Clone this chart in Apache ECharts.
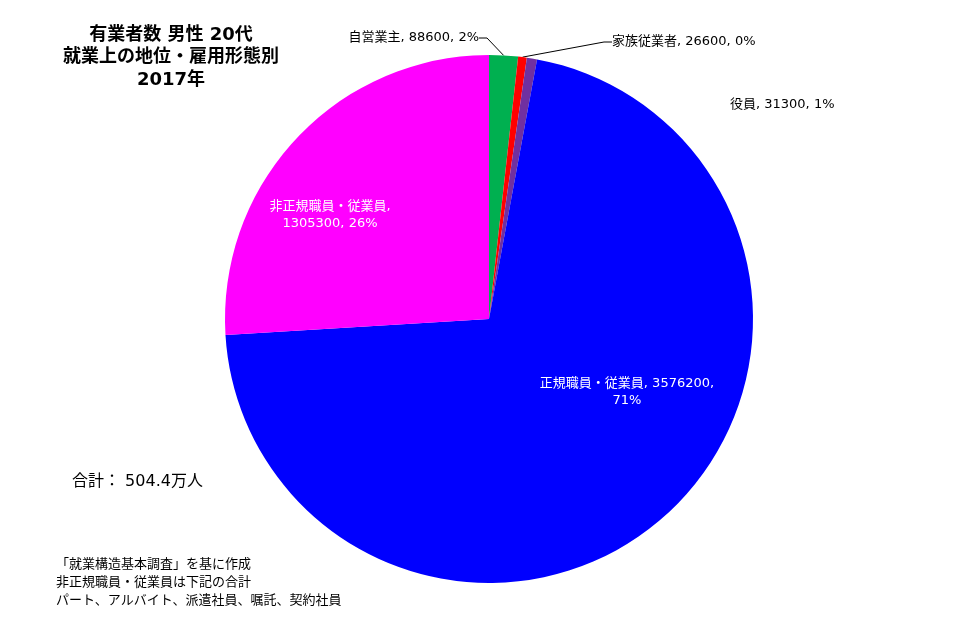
<!DOCTYPE html>
<html lang="ja">
<head>
<meta charset="UTF-8">
<title>有業者数 男性 20代</title>
<script src="https://cdn.jsdelivr.net/npm/echarts@6/dist/echarts.min.js"></script>
<style>
html,body{margin:0;padding:0;background:#fff;}
#main{width:979px;height:640px;}
</style>
</head>
<body>
<div id="main"></div>
<script type="text/javascript">
// 就業上の地位・雇用形態別 (人)
var categories = ['自営業主', '家族従業者', '役員', '正規職員・従業員', '非正規職員・従業員'];
var values = [88600, 26600, 31300, 3576200, 1305300];
var percents = [2, 0, 1, 71, 26];
var colors = ['#00B050', '#FF0000', '#7030A0', '#0000FF', '#FF00FF'];
var titleLines = ['有業者数 男性 20代', '就業上の地位・雇用形態別', '2017年'];
var totalText = '合計： 504.4万人';
var noteLines = ['「就業構造基本調査」を基に作成', '非正規職員・従業員は下記の合計', 'パート、アルバイト、派遣社員、嘱託、契約社員'];

var FONT = '"DejaVu Sans", "Noto Sans CJK JP", sans-serif';

var pieData = categories.map(function (name, i) {
    var item = { name: name, value: values[i], itemStyle: { color: colors[i] } };
    if (i >= 3) {
        item.label = { position: 'inside', color: '#fff' };
        item.labelLine = { show: false };
    }
    if (i == 2) {
        item.labelLine = { show: false };
    }
    return item;
});

// 各ラベルの置き場所
var labelPos = [
    { x: 479, y: 38, align: 'right' },
    { x: 612, y: 42, align: 'left' },
    { x: 730, y: 105, align: 'left' },
    { x: 627, y: 392, align: 'center' },
    { x: 330, y: 215, align: 'center' }
];

var chart = echarts.init(document.getElementById('main'));
var option = {
    backgroundColor: '#fff',
    animation: false,
    graphic: [{
        type: 'text',
        x: 171,
        y: 24,
        style: {
            text: titleLines.join('\n'),
            align: 'center',
            font: 'bold 18px ' + FONT,
            lineHeight: 22.5,
            fill: '#000'
        }
    }, {
        type: 'text',
        x: 72,
        y: 474,
        style: { text: totalText, font: '16px ' + FONT, fill: '#000' }
    }, {
        type: 'text',
        x: 56,
        y: 556,
        style: { text: noteLines.join('\n'), font: '13px ' + FONT, lineHeight: 18, fill: '#000' }
    }],
    series: [{
        type: 'pie',
        center: [489, 319],
        radius: 264,
        startAngle: 90,
        clockwise: true,
        avoidLabelOverlap: false,
        data: pieData,
        label: {
            show: true,
            position: 'outside',
            fontFamily: FONT,
            fontSize: 13,
            color: '#000',
            lineHeight: 17,
            formatter: function (p) {
                var i = p.dataIndex;
                if (i == 3) return p.name + ', ' + p.value + ',\n' + percents[i] + '%';
                if (i == 4) return p.name + ',\n' + p.value + ', ' + percents[i] + '%';
                return p.name + ', ' + p.value + ', ' + percents[i] + '%';
            }
        },
        labelLine: {
            show: true,
            length: 10,
            length2: 8,
            lineStyle: { color: '#000', width: 1 }
        },
        labelLayout: function (params) {
            var p = labelPos[params.dataIndex];
            return { x: p.x, y: p.y, align: p.align, verticalAlign: 'middle' };
        },
        emphasis: { disabled: true }
    }]
};
chart.setOption(option);
</script>
</body>
</html>
